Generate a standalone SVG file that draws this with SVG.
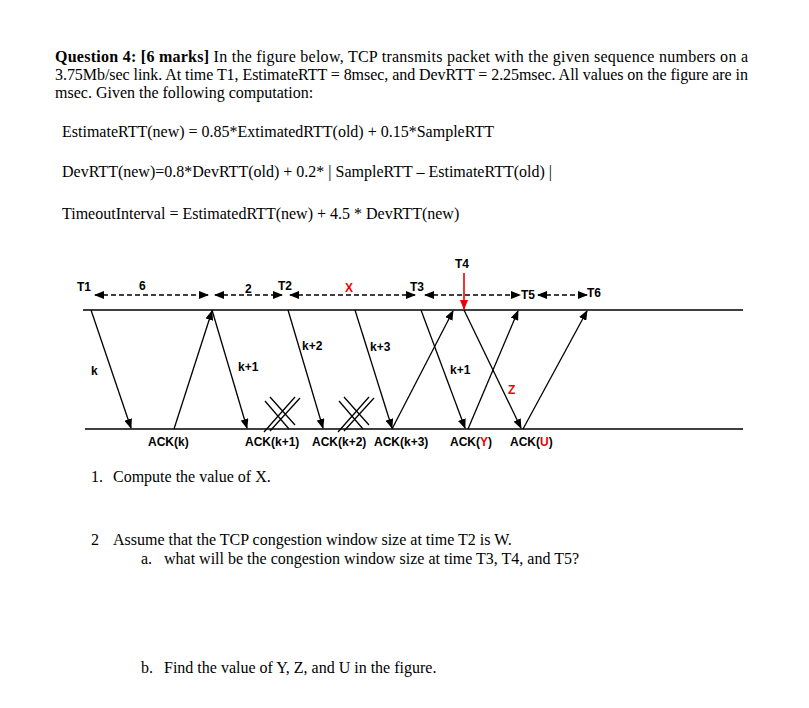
<svg xmlns="http://www.w3.org/2000/svg" width="809" height="708" viewBox="0 0 809 708">
<style>
.t{font-family:"Liberation Serif","Times New Roman",serif;font-size:16px;fill:#000}
.d{font-family:"Liberation Sans",Arial,sans-serif;font-size:12px;font-weight:bold;fill:#000}
.r{fill:#e00}
.ln{stroke:#000;stroke-width:1.3;fill:none}
.dash{stroke:#000;stroke-width:1.3;stroke-dasharray:5,3;fill:none}
</style>
<defs>
<marker id="a" markerWidth="10" markerHeight="8" refX="9" refY="4" orient="auto-start-reverse" markerUnits="userSpaceOnUse"><path d="M0,0L10,4L0,8z" fill="#000"/></marker>
<marker id="ar" markerWidth="10" markerHeight="8" refX="9" refY="4" orient="auto" markerUnits="userSpaceOnUse"><path d="M0,0L10,4L0,8z" fill="#e00"/></marker>
</defs>
<rect width="809" height="708" fill="#fff"/>
<g id="text">
<text class="t" x="55" y="62" textLength="693" lengthAdjust="spacing"><tspan font-weight="bold">Question 4: [6 marks]</tspan> In the figure below, TCP transmits packet with the given sequence numbers on a</text>
<text class="t" x="55" y="80" textLength="693" lengthAdjust="spacing">3.75Mb/sec link. At time T1, EstimateRTT = 8msec, and DevRTT = 2.25msec. All values on the figure are in</text>
<text class="t" x="55" y="98">msec. Given the following computation:</text>
<text class="t" x="62" y="137">EstimateRTT(new) = 0.85*ExtimatedRTT(old) + 0.15*SampleRTT</text>
<text class="t" x="62" y="177">DevRTT(new)=0.8*DevRTT(old) + 0.2* | SampleRTT – EstimateRTT(old) |</text>
<text class="t" x="62" y="219">TimeoutInterval = EstimatedRTT(new) + 4.5 * DevRTT(new)</text>
<text class="t" x="91" y="482">1.</text><text class="t" x="113" y="482">Compute the value of X.</text>
<text class="t" x="91" y="545">2</text><text class="t" x="113" y="545">Assume that the TCP congestion window size at time T2 is W.</text>
<text class="t" x="141" y="564">a.</text><text class="t" x="164" y="564">what will be the congestion window size at time T3, T4, and T5?</text>
<text class="t" x="141" y="673">b.</text><text class="t" x="164" y="673">Find the value of Y, Z, and U in the figure.</text>
</g>
<g id="timelines">
<line class="ln" x1="83" y1="310" x2="743" y2="310"/>
<line class="ln" x1="85" y1="429" x2="743" y2="429"/>
</g>
<g id="connectors">
<line class="ln" x1="91" y1="310" x2="131" y2="428" marker-end="url(#a)"/>
<line class="ln" x1="174" y1="429" x2="212" y2="311" marker-end="url(#a)"/>
<line class="ln" x1="212" y1="310" x2="247" y2="428" marker-end="url(#a)"/>
<line class="ln" x1="288" y1="310" x2="323" y2="428" marker-end="url(#a)"/>
<line class="ln" x1="355" y1="310" x2="392" y2="428" marker-end="url(#a)"/>
<line class="ln" x1="392" y1="429" x2="453" y2="311" marker-end="url(#a)"/>
<line class="ln" x1="421" y1="310" x2="465" y2="428" marker-end="url(#a)"/>
<line class="ln" x1="468" y1="429" x2="518" y2="311" marker-end="url(#a)"/>
<line class="ln" x1="464" y1="310" x2="521" y2="428" marker-end="url(#a)"/>
<line class="ln" x1="523" y1="429" x2="587" y2="311" marker-end="url(#a)"/>
<line x1="464" y1="273" x2="464" y2="309" stroke="#e00" stroke-width="1.6" marker-end="url(#ar)"/>
<g class="ln" stroke-width="1.6">
<path d="M265,401L289,429M270,397L295,425M295,397L264,432M300,398L270,431"/>
<path d="M339,401L363,429M344,397L369,425M369,397L338,432M374,398L344,431"/>
</g>
<line class="dash" x1="95" y1="295" x2="208" y2="295" marker-start="url(#a)" marker-end="url(#a)"/>
<line class="dash" x1="215" y1="295" x2="282" y2="295" marker-start="url(#a)" marker-end="url(#a)"/>
<line class="dash" x1="290" y1="295" x2="415" y2="295" marker-start="url(#a)" marker-end="url(#a)"/>
<line class="dash" x1="425" y1="295" x2="520" y2="295" marker-start="url(#a)" marker-end="url(#a)"/>
<line class="dash" x1="538" y1="295" x2="587" y2="295" marker-start="url(#a)" marker-end="url(#a)"/>
</g>
<g id="labels">
<text class="d" x="77" y="291">T1</text>
<text class="d" x="139" y="290">6</text>
<text class="d" x="245" y="293">2</text>
<text class="d" x="278" y="290">T2</text>
<text class="d r" x="345" y="292">X</text>
<text class="d" x="410" y="291">T3</text>
<text class="d" x="455" y="268">T4</text>
<text class="d" x="521" y="299">T5</text>
<text class="d" x="587" y="297">T6</text>
<text class="d" x="91" y="375">k</text>
<text class="d" x="238" y="371">k+1</text>
<text class="d" x="302" y="350">k+2</text>
<text class="d" x="370" y="351">k+3</text>
<text class="d" x="450" y="374">k+1</text>
<text class="d r" x="508" y="394">Z</text>
<text class="d" x="148" y="446">ACK(k)</text>
<text class="d" x="245" y="446">ACK(k+1)</text>
<text class="d" x="312" y="446">ACK(k+2)</text>
<text class="d" x="374" y="446">ACK(k+3)</text>
<text class="d" x="450" y="446">ACK(<tspan class="r">Y</tspan>)</text>
<text class="d" x="510" y="446">ACK(<tspan class="r">U</tspan>)</text>
</g>
</svg>
